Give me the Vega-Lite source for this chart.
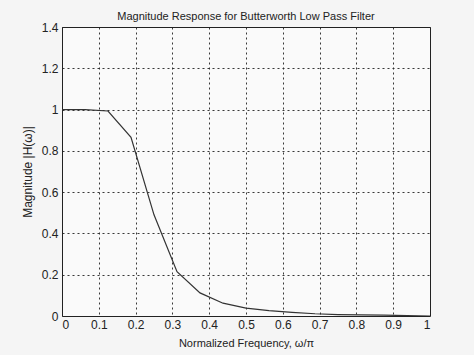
{
  "$schema": "https://vega.github.io/schema/vega-lite/v6.json",
  "autosize": {"type": "none"},
  "width": 368,
  "height": 289,
  "padding": {"left": 62, "top": 27, "right": 44, "bottom": 39},
  "background": "#f5f5f5",
  "title": {"text": "Magnitude Response for Butterworth Low Pass Filter", "font": "Liberation Sans", "fontSize": 11, "fontWeight": "normal", "color": "#222", "offset": -1, "anchor": "middle"},
  "data": {"values": [
    {"f": 0, "m": 1.0},
    {"f": 0.0625, "m": 1.0},
    {"f": 0.125, "m": 0.993},
    {"f": 0.1875, "m": 0.866},
    {"f": 0.25, "m": 0.49},
    {"f": 0.3125, "m": 0.215},
    {"f": 0.375, "m": 0.112},
    {"f": 0.4375, "m": 0.062},
    {"f": 0.5, "m": 0.038},
    {"f": 0.5625, "m": 0.026},
    {"f": 0.625, "m": 0.018},
    {"f": 0.6875, "m": 0.011},
    {"f": 0.75, "m": 0.007},
    {"f": 0.8125, "m": 0.005},
    {"f": 0.875, "m": 0.004},
    {"f": 0.9375, "m": 0.002},
    {"f": 1, "m": 0.0}
  ]},
  "mark": {"type": "line", "color": "#333", "strokeWidth": 1.2, "clip": true},
  "encoding": {
    "x": {"field": "f", "type": "quantitative", "scale": {"domain": [0, 1], "nice": false},
      "axis": {"title": "Normalized Frequency, ω/π", "titleFontSize": 11, "values": [0,0.1,0.2,0.3,0.4,0.5,0.6,0.7,0.8,0.9,1], "format": "~g", "labelPadding": 3, "titlePadding": 7}},
    "y": {"field": "m", "type": "quantitative", "scale": {"domain": [0, 1.4], "nice": false},
      "axis": {"title": "Magnitude |H(ω)|", "values": [0,0.2,0.4,0.6,0.8,1,1.2,1.4], "format": "~g", "labelPadding": 4, "titlePadding": 7}}
  },
  "config": {
    "view": {"stroke": "#222", "strokeWidth": 1, "fill": "#fafafa"},
    "axis": {
      "domain": false,
      "grid": true, "gridColor": "#222", "gridDash": [2, 3], "gridOpacity": 0.9, "gridWidth": 1,
      "ticks": false,
      "labelFont": "Liberation Sans", "labelFontSize": 12, "labelColor": "#222",
      "titleFont": "Liberation Sans", "titleFontSize": 12, "titleFontWeight": "normal", "titleColor": "#222"
    }
  }
}
